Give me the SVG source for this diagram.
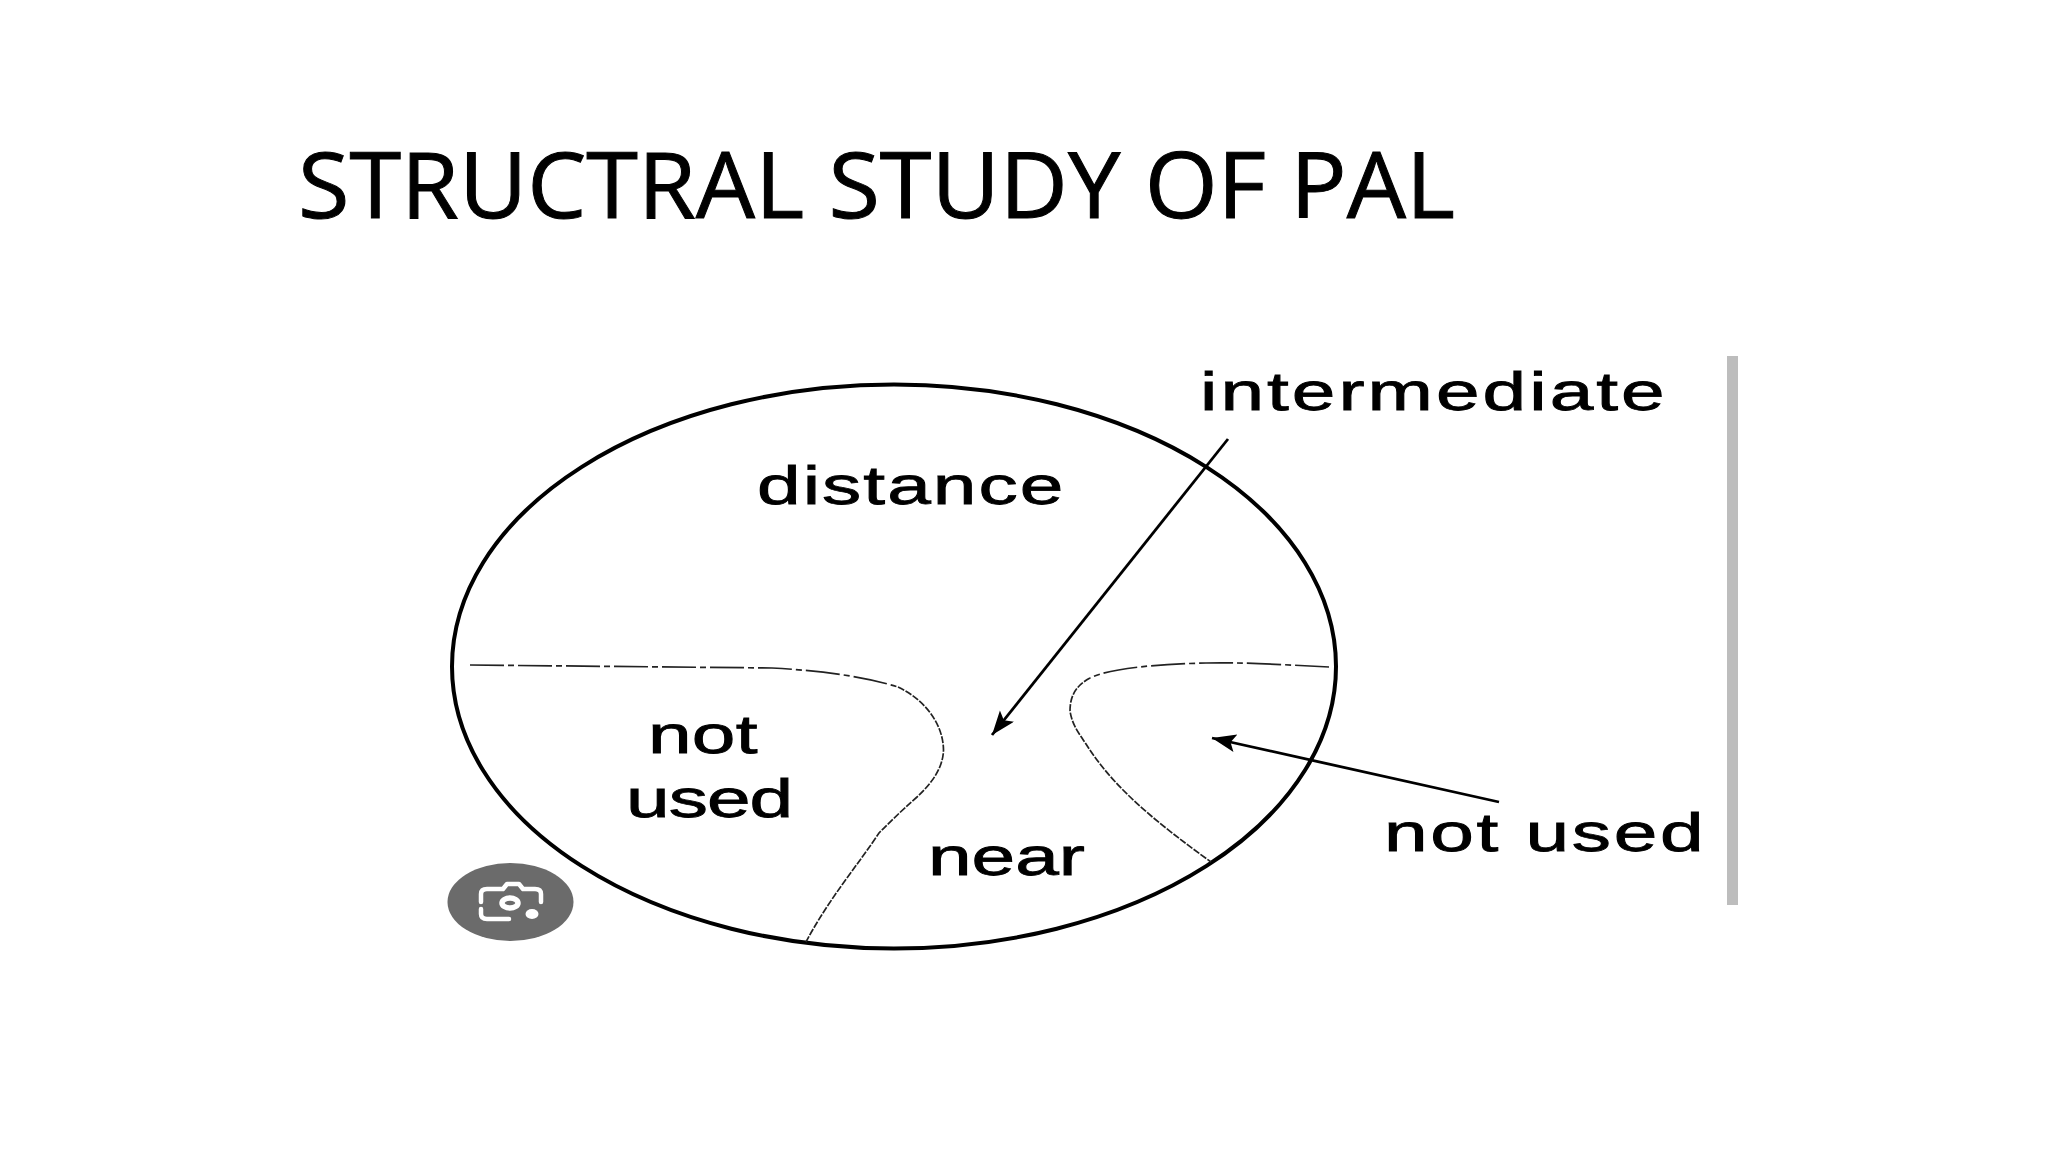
<svg xmlns="http://www.w3.org/2000/svg" width="2048" height="1152" viewBox="0 0 2048 1152">
<style>
.t{font-family:"Open Sans","Noto Sans",sans-serif;font-size:92px;fill:#000;stroke:#000;stroke-width:1px}
.l{font-family:"Liberation Sans",Arial,sans-serif;font-size:53px;fill:#000;stroke:#000;stroke-width:.8px}
.edge{fill:none;stroke:#000;stroke-width:2.8}
.arc{fill:none;stroke:#222;stroke-width:1.7}
.dash{stroke-dasharray:34 4 6 4}
.fine{stroke-dasharray:7 1.500}
.ico{fill:none;stroke:#fff;stroke-width:4.5;stroke-linecap:round;stroke-linejoin:round}
</style>
<defs>
<marker id="ah" markerUnits="userSpaceOnUse" markerWidth="26" markerHeight="20" refX="24" refY="9" orient="auto"><path d="M0 0L24 9L0 18L5 9Z" fill="#000"/></marker>
</defs>
<rect width="2048" height="1152" fill="#fff"/>
<g id="title"><text class="t" x="298" y="218" textLength="1157" lengthAdjust="spacingAndGlyphs">STRUCTRAL STUDY OF PAL</text></g>
<g id="lens"><ellipse cx="894" cy="666.500" rx="442" ry="282" fill="none" stroke="#000" stroke-width="4"/></g>
<g id="bar"><rect x="1727" y="356" width="11" height="549" fill="#bdbdbd"/></g>
<g id="connectors">
<path class="edge" d="M1228 439L992 735" marker-end="url(#ah)"/>
<path class="edge" d="M1499 802L1212 738" marker-end="url(#ah)"/>
</g>
<g id="boundaries">
<path class="arc dash" d="M470 665L772 668C810 670 860 675 898 687"/>
<path class="arc fine" d="M898 687C920 697 943 720 943.500 750C943 768 932 783 917 797C900 812 890 822 879 833C860 862 828 900 806 942"/>
<path class="arc dash" d="M1329 667C1290 665 1240 662 1206 663C1160 664 1110 668 1090 678"/>
<path class="arc fine" d="M1090 678C1075 686 1070 697 1070 711C1072 725 1080 735 1086 744C1115 790 1160 825 1211 862"/>
</g>
<g id="label-distance"><text class="l" transform="translate(757 504) scale(1.48 1)" textLength="207" lengthAdjust="spacing">distance</text></g>
<g id="label-intermediate"><text class="l" transform="translate(1200 410) scale(1.48 1)" textLength="314" lengthAdjust="spacing">intermediate</text></g>
<g id="label-not-used-left"><text class="l" transform="translate(648 753) scale(1.48 1)" textLength="74" lengthAdjust="spacing">not</text><text class="l" transform="translate(626 817) scale(1.48 1)" textLength="113" lengthAdjust="spacing">used</text></g>
<g id="label-near"><text class="l" transform="translate(928 875) scale(1.48 1)" textLength="106" lengthAdjust="spacing">near</text></g>
<g id="label-not-used-right"><text class="l" transform="translate(1384 851) scale(1.48 1)" textLength="216" lengthAdjust="spacing">not used</text></g>
<g id="lens-icon">
<ellipse cx="510.500" cy="902" rx="63" ry="39" fill="#6b6b6b"/>
<path class="ico" d="M481 902V894Q481 889 487 889H503L507 884H519L523 889H535Q541 889 541 894V902"/>
<path class="ico" d="M481 909V914Q481 919 487 919H509"/>
<ellipse cx="510" cy="903" rx="8" ry="5" fill="none" stroke="#fff" stroke-width="5.500"/>
<ellipse cx="532" cy="914" rx="6.500" ry="5" fill="#fff"/>
</g>
</svg>
